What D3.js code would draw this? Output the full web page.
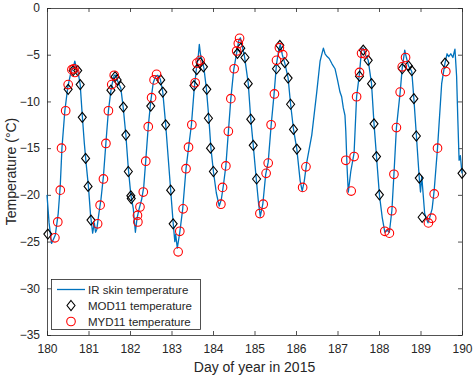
<!DOCTYPE html>
<html>
<head>
<meta charset="utf-8">
<script src="https://cdn.jsdelivr.net/npm/d3@7"></script>
<style>
  body { margin: 0; background: #fff; }
  svg text { font-family: "Liberation Sans", Arial, sans-serif; fill: #262626; }
</style>
</head>
<body>
<div id="chart"></div>
<script>
// IR skin temperature (blue line)
var lineDay = [180.00,180.05,180.11,180.15,180.20,180.27,180.32,180.36,180.43,180.50,180.57,180.63,180.67,180.71,180.75,180.80,180.85,180.90,180.94,
  181.00,181.05,181.10,181.14,181.17,181.20,181.25,181.30,181.36,181.42,181.48,181.55,181.62,181.66,181.70,181.78,181.84,181.90,181.96,
  182.02,182.08,182.13,182.17,182.22,182.28,182.33,182.38,182.44,182.50,182.56,182.62,182.67,182.73,182.79,182.86,182.92,182.98,
  183.04,183.08,183.10,183.14,183.20,183.27,183.35,183.41,183.48,183.55,183.60,183.64,183.67,183.70,183.74,183.78,183.84,183.90,183.95,
  184.01,184.08,184.15,184.20,184.25,184.31,184.37,184.43,184.50,184.57,184.62,184.66,184.70,184.76,184.85,184.91,184.97,
  185.04,185.10,185.14,185.20,185.27,185.33,185.40,185.47,185.53,185.58,185.62,185.67,185.73,185.81,185.87,185.94,
  186.02,186.10,186.15,186.20,186.26,186.38,186.50,186.58,186.62,186.66,186.70,186.75,186.80,186.87,186.94,
  187.00,187.06,187.10,187.14,187.18,187.20,187.23,187.26,187.32,187.40,187.46,187.53,187.58,187.62,187.66,187.74,187.82,187.88,187.94,
  188.01,188.08,188.14,188.20,188.25,188.31,188.36,188.42,188.51,188.56,188.62,188.66,188.71,188.79,188.84,188.90,188.97,
  189.00,189.03,189.10,189.18,189.23,189.28,189.33,189.41,189.51,189.59,189.64,189.68,189.73,189.78,189.83,189.87,189.90,189.93,189.96,190.00];
var lineTemp = [-20.0,-23.0,-25.2,-24.8,-24.3,-22.0,-19.0,-15.0,-11.0,-8.5,-7.0,-6.4,-5.7,-6.5,-6.9,-8.2,-11.5,-14.5,-16.5,
  -19.2,-22.2,-24.1,-23.0,-24.0,-23.7,-22.0,-20.5,-18.0,-14.4,-11.0,-8.5,-7.2,-7.2,-7.8,-8.6,-10.8,-13.6,-17.2,
  -20.0,-21.5,-24.0,-22.5,-21.5,-20.5,-19.2,-16.3,-12.7,-10.0,-8.0,-7.3,-7.2,-7.6,-9.0,-12.5,-16.0,-19.5,
  -23.0,-25.0,-24.2,-25.7,-24.0,-21.5,-17.2,-15.0,-12.5,-8.5,-6.5,-5.4,-3.9,-5.0,-5.6,-6.4,-8.6,-11.8,-15.0,
  -17.5,-19.8,-21.2,-20.5,-19.0,-16.9,-13.3,-9.7,-6.6,-4.8,-3.5,-3.2,-4.0,-5.2,-8.1,-11.9,-14.7,
  -18.2,-21.0,-22.3,-21.0,-17.8,-16.5,-12.6,-9.3,-6.0,-4.6,-3.9,-5.0,-5.9,-7.5,-10.3,-13.0,
  -15.1,-18.5,-19.6,-18.5,-16.5,-13.6,-9.0,-5.7,-5.0,-4.3,-4.9,-5.2,-5.4,-6.0,-6.5,
  -7.7,-9.0,-9.5,-10.7,-11.5,-13.2,-17.0,-19.7,-17.5,-15.5,-9.5,-7.0,-4.4,-4.3,-4.9,-5.6,-8.1,-12.4,-15.9,
  -20.0,-22.5,-24.0,-23.8,-24.0,-21.7,-17.8,-12.8,-9.0,-6.4,-4.5,-5.3,-6.2,-6.8,-9.7,-13.6,-18.2,
  -19.7,-18.0,-22.0,-23.0,-22.3,-21.5,-19.5,-15.0,-8.1,-5.9,-4.9,-5.2,-4.9,-5.3,-4.4,-7.3,-12.0,-16.3,-15.8,-17.7];

// MOD11 temperature (black diamonds)
var modDay = [180.02,180.51,180.63,180.74,180.80,180.85,180.93,180.99,181.06,
  181.54,181.64,181.69,181.78,181.84,181.90,181.96,182.02,182.03,
  182.50,182.74,182.79,182.86,182.98,183.04,
  183.54,183.61,183.69,183.77,183.85,183.89,183.94,184.01,
  184.59,184.67,184.77,184.85,184.91,184.97,185.05,
  185.53,185.61,185.73,185.81,185.87,185.94,186.02,
  187.53,187.62,187.74,187.82,187.88,187.94,188.01,
  188.56,188.71,188.79,188.84,188.90,188.97,189.04,189.59,190.00];
var modTemp = [-24.2,-8.7,-6.7,-6.7,-8.2,-11.7,-16.1,-19.1,-22.7,
  -8.8,-7.35,-7.7,-8.4,-10.6,-13.6,-17.5,-20.1,-20.4,
  -10.5,-7.7,-9.0,-12.5,-19.5,-23.1,
  -8.3,-6.6,-5.85,-6.3,-8.7,-11.8,-15.0,-17.5,
  -4.85,-4.3,-5.3,-8.1,-11.9,-14.7,-18.3,
  -6.5,-4.0,-5.85,-7.5,-10.3,-13.0,-15.1,
  -7.3,-4.5,-5.6,-8.1,-12.4,-15.9,-20.0,
  -6.5,-6.2,-6.7,-9.7,-13.7,-18.2,-22.4,-5.9,-17.7];

// MYD11 temperature (red circles)
var mydDay = [180.19,180.26,180.32,180.35,180.45,180.51,180.60,180.65,180.67,
  181.22,181.28,181.36,181.42,181.48,181.56,181.62,
  182.18,182.19,182.24,182.32,182.38,182.44,182.52,182.58,182.64,
  183.16,183.20,183.28,183.35,183.41,183.49,183.57,183.61,183.69,
  184.19,184.23,184.31,184.37,184.43,184.51,184.57,184.61,184.64,
  185.13,185.21,185.28,185.33,185.40,185.48,185.53,185.60,185.68,
  186.16,186.24,187.20,187.33,187.40,187.46,187.53,187.58,187.66,
  188.14,188.25,188.31,188.36,188.42,188.51,188.56,188.64,
  189.19,189.27,189.33,189.41,189.61];
var mydTemp = [-24.6,-22.9,-19.5,-15.0,-11.0,-8.2,-6.6,-6.5,-6.9,
  -23.1,-21.1,-18.3,-14.5,-11.0,-8.2,-7.2,
  -22.2,-22.9,-21.3,-19.7,-16.4,-12.7,-9.6,-7.7,-7.1,
  -26.1,-23.9,-21.5,-17.2,-14.9,-12.5,-8.0,-5.9,-5.6,
  -21.0,-19.2,-16.9,-13.2,-9.7,-6.5,-4.6,-3.8,-3.25,
  -22.0,-21.0,-17.7,-16.6,-12.5,-9.2,-5.6,-4.25,-5.0,
  -19.2,-17.0,-16.3,-19.6,-15.9,-9.5,-6.9,-4.85,-4.9,
  -23.9,-24.1,-21.7,-17.8,-12.8,-9.0,-6.3,-5.3,
  -23.0,-22.5,-19.9,-15.0,-6.8];

var xTicks = [180,181,182,183,184,185,186,187,188,189,190];
var yTicks = [0,-5,-10,-15,-20,-25,-30,-35];
var legendLabels = ["IR skin temperature", "MOD11 temperature", "MYD11 temperature"];

var W = 474, H = 377;
var m = {left: 47, right: 12, top: 8, bottom: 42};
var iw = W - m.left - m.right, ih = H - m.top - m.bottom;

var svg = d3.select("#chart").append("svg").attr("width", W).attr("height", H);
var g = svg.append("g").attr("transform", "translate(" + m.left + "," + m.top + ")");

var x = d3.scaleLinear().domain([180, 190]).range([0, iw]);
var y = d3.scaleLinear().domain([-35, 0]).range([ih, 0]);

var axisColor = "#262626";

// axes, ticks point inward like MATLAB
var xb = g.append("g").attr("transform", "translate(0," + ih + ")")
  .call(d3.axisBottom(x).tickValues(xTicks).tickSizeInner(-4).tickSizeOuter(0).tickPadding(9).tickFormat(d3.format("d")));
var xt = g.append("g")
  .call(d3.axisTop(x).tickValues(xTicks).tickSizeInner(-4).tickSizeOuter(0).tickFormat(""));
var yl = g.append("g")
  .call(d3.axisLeft(y).tickValues(yTicks).tickSizeInner(-4).tickSizeOuter(0).tickPadding(7).tickFormat(d3.format("d")));
var yr = g.append("g").attr("transform", "translate(" + iw + ",0)")
  .call(d3.axisRight(y).tickValues(yTicks).tickSizeInner(-4).tickSizeOuter(0).tickFormat(""));

[xb, xt, yl, yr].forEach(function (a) {
  a.selectAll("path").attr("stroke", axisColor).attr("stroke-width", 0.8);
  a.selectAll("line").attr("stroke", axisColor).attr("stroke-width", 0.8);
  a.selectAll("text").attr("font-size", 12).style("fill", axisColor);
});

// blue line
var line = d3.line().x(function (d, i) { return x(lineDay[i]); }).y(function (d) { return y(d); });
g.append("path").datum(lineTemp)
  .attr("fill", "none").attr("stroke", "#0072BD").attr("stroke-width", 1.3)
  .attr("stroke-linejoin", "round").attr("d", line);

// diamond marker
function diamond(cx, cy) {
  return "M" + cx + "," + (cy - 5) + "L" + (cx + 4) + "," + cy + "L" + cx + "," + (cy + 5) + "L" + (cx - 4) + "," + cy + "Z";
}

g.selectAll(".mod").data(modTemp).enter().append("path")
  .attr("class", "mod")
  .attr("d", function (d, i) { return diamond(x(modDay[i]), y(d)); })
  .attr("fill", "none").attr("stroke", "#000").attr("stroke-width", 1.1);

g.selectAll(".myd").data(mydTemp).enter().append("circle")
  .attr("class", "myd")
  .attr("cx", function (d, i) { return x(mydDay[i]); })
  .attr("cy", function (d) { return y(d); })
  .attr("r", 4.3)
  .attr("fill", "none").attr("stroke", "#ff0000").attr("stroke-width", 1.1);

// labels
svg.append("text")
  .attr("x", m.left + iw / 2).attr("y", 372)
  .attr("text-anchor", "middle").attr("font-size", 14)
  .text("Day of year in 2015");
svg.append("text")
  .attr("transform", "translate(16," + (m.top + ih / 2) + ") rotate(-90)")
  .attr("text-anchor", "middle").attr("font-size", 14)
  .text("Temperature (°C)");

// legend
var lg = svg.append("g");
lg.append("rect").attr("x", 51.5).attr("y", 279.5).attr("width", 149).attr("height", 50)
  .attr("fill", "#fff").attr("stroke", axisColor).attr("stroke-width", 0.8);
var rowY = [289.5, 305.5, 321.5];
lg.append("line").attr("x1", 57).attr("x2", 85).attr("y1", rowY[0]).attr("y2", rowY[0])
  .attr("stroke", "#0072BD").attr("stroke-width", 1.3);
lg.append("path").attr("d", diamond(71, rowY[1]))
  .attr("fill", "none").attr("stroke", "#000").attr("stroke-width", 1.1);
lg.append("circle").attr("cx", 71).attr("cy", rowY[2]).attr("r", 4.3)
  .attr("fill", "none").attr("stroke", "#ff0000").attr("stroke-width", 1.1);
legendLabels.forEach(function (t, i) {
  lg.append("text").attr("x", 88).attr("y", rowY[i]).attr("dy", "0.35em")
    .attr("font-size", 11.5).text(t);
});
</script>
</body>
</html>
